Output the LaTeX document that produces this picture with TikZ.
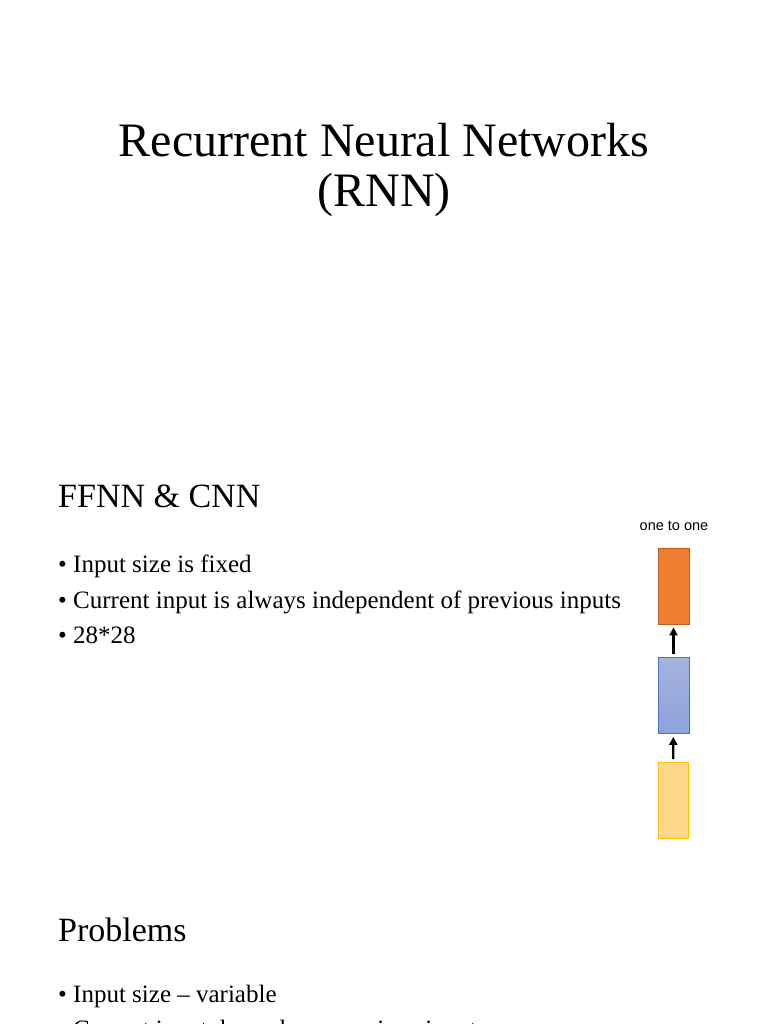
\documentclass[tikz,border=0pt]{standalone}
\usepackage{fontspec}
\setmainfont{Liberation Serif}
\newfontfamily\arialf{Liberation Sans}
\usetikzlibrary{arrows.meta}
\definecolor{orangeA}{HTML}{ED7D31}
\definecolor{orangeB}{HTML}{C55A11}
\definecolor{blueA}{HTML}{A4B2DF}
\definecolor{blueB}{HTML}{8EA2DA}
\definecolor{blueE}{HTML}{4472C4}
\definecolor{yelA}{HTML}{FFD88C}
\definecolor{yelE}{HTML}{FFC000}
\begin{document}
\begin{tikzpicture}[x=1pt,y=-1pt,
  txt/.style={anchor=base west,inner sep=0pt,font=\fontsize{25}{29}\selectfont},
  blk/.style={draw,line width=0.8pt,minimum width=31pt,minimum height=76pt,inner sep=0pt},
  arr/.style={-{Triangle[length=8pt,width=8pt]},line width=2.2pt,shorten >=3pt,shorten <=3pt}]
\useasboundingbox (0,0) rectangle (768,1024);
\clip (0,0) rectangle (768,1024);
\node[anchor=base,inner sep=0pt,font=\fontsize{48}{52}\selectfont] (t1) at (384,157) {Recurrent Neural Networks};
\node[anchor=base,inner sep=0pt,font=\fontsize{48}{52}\selectfont] (t2) at (384,207) {(RNN)};
\node[txt,font=\fontsize{34}{38}\selectfont] (h1) at (58,507) {FFNN \& CNN};
\node[txt] (b1) at (58,572) {• Input size is fixed};
\node[txt] (b2) at (58,608) {• Current input is always independent of previous inputs};
\node[txt] (b3) at (58,643) {• 28*28};
\node[txt,font=\fontsize{34}{38}\selectfont] (h2) at (58,941) {Problems};
\node[txt] (b4) at (58,1002) {• Input size – variable};
\node[txt] (b5) at (58,1037) {• Current input depends on previous inputs};
\node[anchor=base,inner sep=0pt,font=\arialf\fontsize{14.5}{16}\selectfont] (lab) at (674,530) {one to one};
\node[blk,draw=orangeB,fill=orangeA] (o) at (673.5,586) {};
\node[blk,draw=blueE,top color=blueA,bottom color=blueB] (m) at (673.5,695.5) {};
\node[blk,draw=yelE,fill=yelA,minimum width=30pt] (i) at (673,800.5) {};
\draw[arr] (i) -- (m);
\draw[arr] (m) -- (o);
\end{tikzpicture}
\end{document}
